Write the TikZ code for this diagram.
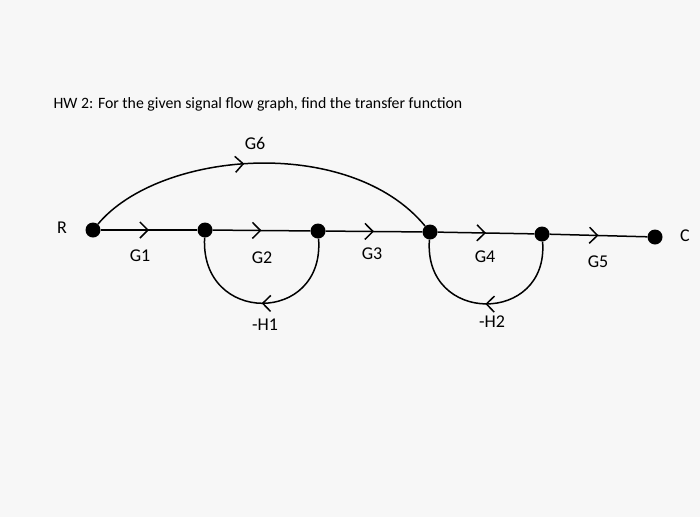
\documentclass[tikz,border=0pt]{standalone}
\usepackage{fontspec}
\setmainfont{Carlito}
\usetikzlibrary{arrows.meta,decorations.markings}
\begin{document}
\begin{tikzpicture}[x=1pt,y=-1pt,
  dot/.style={circle,fill=black,inner sep=0pt,minimum size=15pt},
  lbl/.style={font=\fontsize{18}{20}\selectfont},
  br/.style={line width=1.5pt,postaction={decorate},decoration={markings,mark=at position #1 with {\arrow{Straight Barb[length=8pt,width=16pt,line width=1.5pt]}}}},
  br/.default=0.5]
\fill[gray!6] (0,0) rectangle (700,517);
\useasboundingbox (0,0) rectangle (700,517);
\node[anchor=west,font=\fontsize{15.8}{18}\selectfont] (t) at (50,104) {HW 2: For the given signal flow graph, find the transfer function};
\node[dot] (n1) at (93,230) {};
\node[dot] (n2) at (205,230) {};
\node[dot] (n3) at (318,231) {};
\node[dot] (n4) at (430,232) {};
\node[dot] (n5) at (542,234) {};
\node[dot] (n6) at (655,237) {};
\node[lbl] (R) at (62,228) {R};
\node[lbl] (C) at (685,236) {C};
\draw[br] (n1) -- (n2);
\draw[br] (n2) -- (n3);
\draw[br] (n3) -- (n4);
\draw[br] (n4) -- (n5);
\draw[br] (n5) -- (n6);
\draw[br=0.5] (n3) .. controls (325,325) and (200,325) .. (n2);
\draw[br=0.5] (n5) .. controls (549,325) and (423,325) .. (n4);
\draw[br=0.45] (n1) .. controls (160,150) and (350,135) .. (n4);
\node[lbl] (g1) at (140,256) {G1};
\node[lbl] (g2) at (262,258) {G2};
\node[lbl] (g3) at (372,254) {G3};
\node[lbl] (g4) at (485,257) {G4};
\node[lbl] (g5) at (598,262) {G5};
\node[lbl] (g6) at (255,143) {G6};
\node[lbl] (h1) at (265,325) {-H1};
\node[lbl] (h2) at (492,322) {-H2};
\end{tikzpicture}
\end{document}
